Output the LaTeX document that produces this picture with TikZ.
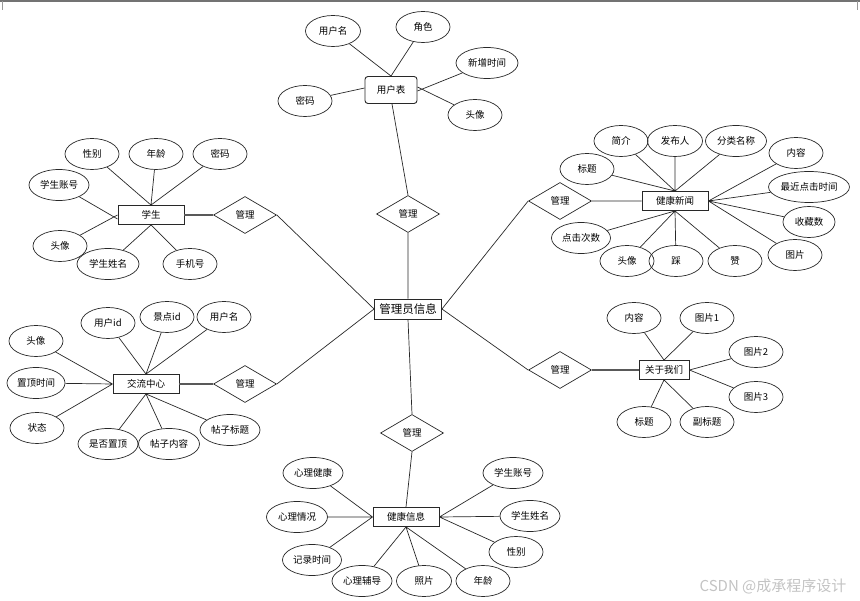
\documentclass[tikz,border=0pt]{standalone}
\usepackage{fontspec}
\setmainfont{Noto Sans CJK SC}
\usetikzlibrary{shapes.geometric}
\definecolor{lineblk}{RGB}{40,40,40}
\definecolor{markgray}{RGB}{195,195,195}

\begin{document}
\begin{tikzpicture}[
      x=1pt, y=-1pt,
      entity/.style={draw=lineblk, line width=0.9pt, minimum width=66pt, minimum height=19pt, inner sep=0pt, font=\fontsize{9.5}{11}\selectfont},
      attr/.style={ellipse, draw=lineblk, line width=0.7pt, minimum width=54pt, minimum height=31pt, inner sep=0pt, font=\fontsize{9.5}{11}\selectfont},
      rel/.style={diamond, draw=lineblk, line width=0.7pt, minimum width=63pt, minimum height=37pt, inner sep=0pt, font=\fontsize{9.5}{11}\selectfont},
      link/.style={draw=lineblk, line width=0.7pt},
      heavy/.style={draw=black!65, line width=1.4pt}
    ]
      \useasboundingbox (0,0) rectangle (860,601);
      \draw[black!55, line width=1.5pt] (0,1) -- (860,1);
      \draw[black!40, line width=0.6pt] (2,1) -- (2,10) (857,1) -- (857,10);

      % centre
      \node[entity, minimum width=67pt, minimum height=20pt, font=\fontsize{11.5}{13}\selectfont] (admin) at (408,309) {管理员信息};

      % user table
      \node[entity, rounded corners=3pt, minimum width=52pt, minimum height=27pt] (user) at (391,90) {用户表};
      \node[attr, minimum width=55pt] (uName) at (333,31) {用户名};
      \node[attr] (uRole) at (423,27) {角色};
      \node[attr, minimum width=62pt] (uTime) at (487,63) {新增时间};
      \node[attr] (uHead) at (475,115) {头像};
      \node[attr] (uPwd) at (305,101) {密码};
      \node[rel] (rUser) at (408,214) {管理};
      \draw[link] (uName) -- (user.north) (uRole) -- (user.north)
        (uTime) -- ([yshift=-1pt]user.east) (uHead) -- ([yshift=3pt]user.east) (uPwd) -- ([yshift=2pt]user.west);
      \draw[link] ([xshift=1pt]user.south) -- (rUser.north) (rUser.south) -- (admin.north);

      % student
      \node[entity] (stu) at (151,215) {学生};
      \node[attr] (sSex) at (92,154) {性别};
      \node[attr] (sAge) at (156,154) {年龄};
      \node[attr] (sPwd) at (220,154) {密码};
      \node[attr, minimum width=60pt] (sNo) at (59,185) {学生账号};
      \node[attr] (sHead) at (60,246) {头像};
      \node[attr, minimum width=62pt] (sName) at (108,264) {学生姓名};
      \node[attr] (sPhone) at (190,264) {手机号};
      \node[rel] (rStu) at (245,215) {管理};
      \draw[link] (sSex) -- (stu.north) (sAge) -- (stu.north) (sPwd) -- (stu.north)
        (sNo) -- ([yshift=-4pt]stu.west) (sHead) -- (stu.west)
        (sName) -- (stu.south) (sPhone) -- (stu.south);
      \draw[heavy] (stu) -- (rStu);
      \draw[link] (rStu.east) -- (admin.west);

      % forum
      \node[entity] (forum) at (146,384) {交流中心};
      \node[attr] (fUid) at (108,323) {用户id};
      \node[attr] (fSid) at (167,317) {景点id};
      \node[attr] (fUname) at (224,317) {用户名};
      \node[attr] (fHead) at (36,341) {头像};
      \node[attr, minimum width=58pt] (fTopTime) at (36,383) {置顶时间};
      \node[attr] (fState) at (37,428) {状态};
      \node[attr, minimum width=60pt] (fIsTop) at (108,444) {是否置顶};
      \node[attr, minimum width=61pt] (fBody) at (169,444) {帖子内容};
      \node[attr, minimum width=60pt] (fTitle) at (230,430) {帖子标题};
      \node[rel] (rForum) at (245,384) {管理};
      \draw[link] (fUid) -- (forum.north) (fSid) -- (forum.north) (fUname) -- (forum.north)
        (fHead) -- (forum.west) (fTopTime) -- (forum.west) (fState) -- (forum.west)
        (fIsTop) -- (forum.south) (fBody) -- (forum.south) (fTitle) -- (forum.south);
      \draw[heavy] (forum) -- (rForum);
      \draw[link] (rForum.east) -- (admin.west);

      % health news
      \node[entity] (news) at (675,201) {健康新闻};
      \node[attr] (nIntro) at (621,141) {简介};
      \node[attr, minimum width=55pt] (nAuthor) at (675,141) {发布人};
      \node[attr, minimum width=61pt] (nType) at (736,141) {分类名称};
      \node[attr] (nTitle) at (587,169) {标题};
      \node[attr] (nBody) at (796,153) {内容};
      \node[attr, minimum width=81pt] (nLast) at (809,187) {最近点击时间};
      \node[attr, minimum width=52pt] (nFav) at (809,222) {收藏数};
      \node[attr] (nPic) at (795,255) {图片};
      \node[attr, minimum width=59pt] (nClick) at (581,238) {点击次数};
      \node[attr] (nHead) at (627,261) {头像};
      \node[attr] (nDown) at (676,261) {踩};
      \node[attr] (nUp) at (735,261) {赞};
      \node[rel] (rNews) at (560,201) {管理};
      \draw[link] (nIntro) -- (news.north) (nAuthor) -- (news.north) (nType) -- (news.north) (nTitle) -- (news.north)
        (nBody) -- (news.east) (nLast) -- (news.east) (nFav) -- (news.east) (nPic) -- (news.east)
        (nClick) -- (news.south) (nHead) -- (news.south) (nDown) -- (news.south) (nUp) -- (news.south);
      \draw[link] (rNews) -- (news) (rNews.west) -- (admin.east);

      % about us
      \node[entity, minimum width=50pt] (about) at (664,370) {关于我们};
      \node[attr] (aBody) at (634,318) {内容};
      \node[attr] (aPic1) at (707,318) {图片1};
      \node[attr] (aPic2) at (756,352) {图片2};
      \node[attr] (aPic3) at (756,397) {图片3};
      \node[attr] (aTitle) at (644,422) {标题};
      \node[attr] (aSub) at (707,422) {副标题};
      \node[rel] (rAbout) at (560,370) {管理};
      \draw[link] (aBody) -- (about.north) (aPic1) -- (about.north)
        (aPic2) -- (about.east) (aPic3) -- (about.east)
        (aTitle) -- (about.south) (aSub) -- (about.south);
      \draw[heavy] (rAbout) -- (about);
      \draw[link] (rAbout.west) -- (admin.east);

      % health info
      \node[entity] (health) at (406,517) {健康信息};
      \node[attr, minimum width=60pt] (hMind) at (313,473) {心理健康};
      \node[attr, minimum width=61pt] (hState) at (297,517) {心理情况};
      \node[attr, minimum width=59pt] (hTime) at (312,560) {记录时间};
      \node[attr, minimum width=60pt] (hCoach) at (362,581) {心理辅导};
      \node[attr, minimum width=55pt] (hPhoto) at (424,581) {照片};
      \node[attr] (hAge) at (483,581) {年龄};
      \node[attr] (hSex) at (516,552) {性别};
      \node[attr, minimum width=60pt] (hName) at (530,516) {学生姓名};
      \node[attr, minimum width=60pt] (hNo) at (513,473) {学生账号};
      \node[rel] (rHealth) at (412,433) {管理};
      \draw[link] (hMind) -- (health.west) (hState) -- (health.west) (hTime) -- (health.west)
        (hCoach) -- (health.south) (hPhoto) -- (health.south) (hAge) -- (health.south)
        (hNo) -- (health.east) (hName) -- (health.east) (hSex) -- (health.east);
      \draw[link] (admin.south) -- (rHealth.north) (rHealth.south) -- (health.north);

      % watermark
      \node[text=markgray, font=\fontsize{15}{17}\selectfont] (mark) at (773,586) {CSDN @成承程序设计};
    \end{tikzpicture}
\end{document}
